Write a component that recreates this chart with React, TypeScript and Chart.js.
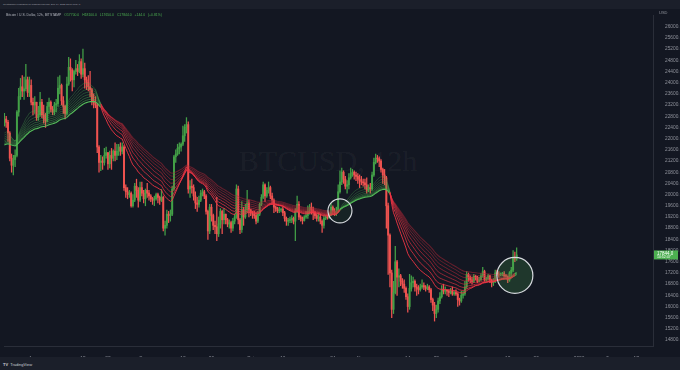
import React, { useEffect, useRef } from "react";
import { Chart, registerables } from "chart.js";

Chart.register(...registerables);

// ---------------- texts ----------------
const headerText = "Cryptosomer published on TradingView.com, Dec 14, 2022 13:07 UTC+1";
const symbolText = "Bitcoin / U.S. Dollar, 12h, BITSTAMP";
const ohlcText = "O17700.0 H18100.0 L17650.0 C17844.0 +144.0 (+0.81%)";
const watermarkText = "BTCUSD, 12h";
const currencyText = "USD";
const brandText = "TradingView";

// ---------------- time base ----------------
// day 0 = 1 Aug 2022; first 12h candle opens 24 Jul 2022
const firstDay = -8;
const barDays = 0.5;
const firstOpen = 22450;

// ---------------- 12h candles (Jul 24 .. Dec 14) ----------------
const closes = [
  // Jul 24-31
  22700, 22580, 22200, 21300, 21050, 21250, 21400, 22950, 23500, 23850, 23700, 23780, 24100, 23650, 23900, 23300,
  // Aug
  23200, 23300, 22750, 22850, 23300, 22850, 22700, 22620, 23150, 23300, 23050, 22950, 23200, 23250, 23800, 23900,
  23350, 23150, 22900, 23950, 24550, 24450, 24100, 24400, 24500, 24400, 24750, 24300, 24500, 24100, 24000, 23850,
  23750, 23350, 23300, 23200, 21700, 21150, 21200, 21150, 21400, 21500, 21100, 21400, 21300, 21550, 21400, 21550,
  21700, 21550, 21700, 20250, 20100, 20000, 20050, 19600, 19800, 20300, 20150, 19800, 20250, 20050,
  // Sep
  19850, 20150, 20050, 19950, 19850, 19800, 19850, 20000, 19900, 19800, 19900, 18800, 18900, 19300, 19250, 19300,
  20200, 21350, 21450, 21650, 21700, 21800, 22100, 22400, 22500, 20200, 20300, 20250, 19950, 19700, 19650, 19800,
  20050, 20100, 19950, 19400, 18700, 19550, 19250, 18900, 18850, 18600, 18950, 19400, 19100, 19300, 19100, 18950,
  19000, 18800, 19050, 19200, 20200, 19100, 18750, 19450, 19200, 19450, 19700, 19450,
  // Oct
  19350, 19300, 19250, 19050, 19300, 19650, 19900, 20350, 19950, 20150, 20250, 19950, 19800, 19550, 19500, 19420,
  19450, 19480, 19350, 19150, 19050, 19080, 19100, 19150, 19050, 19400, 19650, 19200, 19150, 19070, 19200, 19250,
  19400, 19550, 19450, 19350, 19250, 19150, 19200, 19050, 18900, 19150, 19200, 19170, 19300, 19550, 19400, 19350,
  19400, 20100, 20450, 20800, 20550, 20300, 20350, 20600, 20750, 20800, 20700, 20650, 20550, 20500,
  // Nov
  20450, 20420, 20350, 20150, 20250, 20200, 20700, 21150, 21300, 21280, 21200, 20900, 20700, 20600, 19600, 18550,
  17200, 15900, 16500, 17600, 17050, 17100, 16900, 16800, 16650, 16350, 16000, 16650, 16850, 16900, 16700, 16650,
  16600, 16700, 16750, 16700, 16650, 16700, 16600, 16250, 16050, 15750, 15900, 16200, 16350, 16600, 16550, 16580,
  16550, 16500, 16550, 16450, 16500, 16450, 16250, 16200, 16400, 16450, 16700, 17150,
  // Dec 1-14
  17050, 16950, 16900, 17080, 17050, 16900, 16950, 17100, 17250, 16950, 17000, 17100, 16950, 16850, 16900, 17200,
  17150, 17130, 17150, 17170, 17100, 17080, 16950, 17200, 17300, 17750, 17700, 17844,
];

const highs = [
  22900, 22800, 22650, 22250, 21450, 21400, 21600, 23000, 23800, 24150, 24250, 24200, 24650, 24200, 24200, 24100,
  23450, 23500, 23300, 23150, 23650, 23400, 23200, 22900, 23300, 23450, 23350, 23150, 23300, 23400, 24200, 24250,
  23950, 23500, 23200, 24200, 24900, 24850, 24500, 24450, 24800, 24650, 25000, 24850, 25200, 24700, 24200, 24250,
  24400, 23800, 23600, 23500, 23250, 21750, 21400, 21350, 21650, 21700, 21500, 21550, 21650, 21600, 21850, 21800,
  21800, 21850, 21850, 21750, 20350, 20250, 20150, 20100, 20000, 20400, 20550, 20250, 20450, 20450,
  20150, 20200, 20400, 20150, 20000, 19900, 19950, 20050, 20050, 19950, 20180, 19950, 19050, 19450, 19400, 19450,
  20300, 21400, 21600, 21800, 21850, 21850, 22450, 22500, 22750, 22600, 20500, 20550, 20350, 20100, 19900, 19950,
  20150, 20200, 20150, 20000, 19450, 19650, 19650, 19300, 19050, 19900, 19200, 19500, 19450, 19500, 19300, 19150,
  19100, 19050, 19150, 19300, 20350, 20300, 19150, 19750, 19550, 19650, 20150, 19800,
  19480, 19400, 19400, 19350, 19400, 19700, 20000, 20450, 20380, 20250, 20450, 20300, 20050, 19850, 19600, 19550,
  19550, 19520, 19550, 19400, 19200, 19150, 19200, 19250, 19200, 19500, 19950, 19750, 19250, 19200, 19250, 19400,
  19600, 19650, 19700, 19550, 19400, 19300, 19350, 19300, 19100, 19250, 19250, 19280, 19350, 19700, 19600, 19500,
  19550, 20350, 20850, 20950, 20850, 20650, 20500, 20750, 20950, 20900, 20850, 20800, 20750, 20700,
  20650, 20550, 20550, 20600, 20350, 20400, 20800, 21300, 21450, 21400, 21350, 21250, 20950, 20900, 20650, 19700,
  18600, 17300, 16900, 18150, 17650, 17350, 17150, 17000, 16950, 16700, 16450, 17150, 17100, 17050, 16950, 16800,
  16750, 16800, 16950, 16850, 16750, 16800, 16750, 16650, 16300, 16150, 16050, 16300, 16500, 16750, 16800, 16700,
  16600, 16600, 16650, 16700, 16550, 16600, 16500, 16300, 16550, 16550, 16900, 17250,
  17200, 17100, 17050, 17150, 17120, 17080, 17050, 17180, 17400, 17300, 17050, 17150, 17120, 16980, 17000, 17300,
  17300, 17250, 17200, 17220, 17250, 17150, 17100, 17250, 17400, 18000, 17950, 18100,
];

const lows = [
  22450, 22400, 21900, 21200, 20800, 20700, 21000, 21350, 22800, 23400, 23500, 23400, 23700, 23500, 23500, 23200,
  22850, 22900, 22650, 22650, 22800, 22750, 22550, 22400, 22600, 22900, 22950, 22850, 22850, 22950, 23150, 23600,
  23200, 22900, 22700, 22850, 23900, 24050, 23700, 23850, 24300, 24250, 24350, 24150, 24200, 23800, 23750, 23700,
  23500, 23200, 23100, 23100, 21500, 20800, 20850, 20900, 21050, 21300, 20900, 20950, 20900, 21200, 21200, 21250,
  21400, 21400, 21450, 20150, 19900, 19850, 19900, 19550, 19550, 19750, 19900, 19550, 19750, 19950,
  19700, 19600, 19900, 19800, 19750, 19650, 19600, 19800, 19700, 19650, 19750, 18700, 18550, 18800, 19000, 19050,
  19250, 20150, 21150, 21400, 21450, 21550, 21750, 21900, 22200, 20050, 19900, 20050, 19800, 19500, 19400, 19550,
  19750, 19950, 19850, 19300, 18400, 18600, 19050, 18750, 18600, 18350, 18500, 18800, 18600, 18950, 18950, 18850,
  18800, 18650, 18700, 18950, 19150, 18950, 18600, 18650, 18900, 19150, 19350, 19200,
  19250, 19150, 19150, 18950, 19000, 19250, 19600, 19850, 19750, 19900, 20050, 19850, 19700, 19350, 19400, 19350,
  19350, 19380, 19250, 19050, 18900, 18900, 19000, 19000, 18950, 18350, 19350, 19100, 19050, 18950, 19050, 19150,
  19150, 19300, 19300, 19100, 19150, 19050, 19050, 18950, 18650, 18800, 19100, 19120, 19150, 19250, 19300, 19250,
  19250, 19350, 20050, 20350, 20400, 20200, 20050, 20200, 20550, 20650, 20550, 20500, 20400, 20250,
  20350, 20300, 20200, 20050, 20100, 20050, 20150, 20650, 21100, 21150, 21000, 20800, 20400, 20350, 18800, 17150,
  16700, 15600, 15750, 16450, 16400, 16700, 16750, 16650, 16500, 16250, 15800, 15900, 16550, 16700, 16550, 16400,
  16450, 16550, 16650, 16600, 16550, 16600, 16500, 16150, 15850, 15480, 15600, 15800, 16100, 16300, 16450, 16450,
  16400, 16350, 16450, 16400, 16400, 16400, 16000, 16050, 16150, 16300, 16400, 16650,
  16900, 16850, 16800, 16850, 16950, 16850, 16880, 16930, 17050, 16900, 16900, 16950, 16850, 16700, 16750, 16850,
  17100, 17050, 17100, 17100, 17050, 17050, 16850, 16900, 17050, 17250, 17600, 17650,
];

// ---------------- EMA ribbon ----------------
const emaLengths = [20, 25, 30, 35, 40, 45, 50, 55];
const emaStart = [22150, 22080, 22010, 21950, 21890, 21840, 21790, 21740];

// ---------------- axes ----------------
const xMinDay = -8.12;
const xMaxDay = 173.7;
const tickDays = [0, 14, 21, 31, 42, 50, 61, 70, 84, 92, 105, 113, 122, 133, 141, 153, 161, 169];
const tickLabels = ["Aug", "15", "22", "Sep", "12", "20", "Oct", "10", "24", "Nov", "14", "22", "Dec", "12", "20", "2023", "9", "17"];
const yMin = 14590;
const yMax = 26385;
const priceTicks = [
  26000, 25600, 25200, 24800, 24400, 24000, 23600, 23200, 22800, 22400, 22000, 21600, 21200, 20800, 20400,
  20000, 19600, 19200, 18800, 18400, 18000, 17600, 17200, 16800, 16400, 16000, 15600, 15200, 14800,
];

// ---------------- drawn circles ----------------
const circleDays = [86, 135];
const circlePrices = [19420, 17110];

const UP = "#43a047";
const DOWN = "#ef5350";
// fast (EMA20) ... slow (EMA55)
const greenShades = [
  "rgba(76,175,80,0.35)", "rgba(76,175,80,0.35)", "rgba(76,175,80,0.38)", "rgba(76,175,80,0.4)",
  "rgba(76,175,80,0.45)", "rgba(76,175,80,0.5)", "rgba(76,175,80,0.6)", "rgba(86,190,90,1)",
];
const redShades = [
  "rgba(242,54,69,1)", "rgba(236,52,68,0.85)", "rgba(228,50,66,0.75)", "rgba(220,48,64,0.68)",
  "rgba(210,46,62,0.62)", "rgba(200,44,60,0.56)", "rgba(190,42,58,0.52)", "rgba(180,40,56,0.5)",
];

export default function App() {
  const canvasRef = useRef<HTMLCanvasElement>(null);

  useEffect(() => {
    const canvas = canvasRef.current;
    if (!canvas) return;

    const days = closes.map((_, i) => firstDay + i * barDays);
    const opens = closes.map((_, i) => (i === 0 ? firstOpen : closes[i - 1]));
    const colors = closes.map((c, i) => (c >= opens[i] ? UP : DOWN));

    const emas = emaLengths.map((n, k) => {
      const a = 2 / (n + 1);
      let e = emaStart[k];
      return closes.map((c) => (e = e + a * (c - e)));
    });
    const fast = emas[0];
    const slow = emas[emas.length - 1];
    const bull = fast.map((v, i) => v > slow[i]);

    const ribbonSets = emas.map((arr, k) => ({
      type: "line" as const,
      data: arr.map((y, i) => ({ x: days[i], y })),
      borderWidth: k === emas.length - 1 ? 1.1 : 0.9,
      pointRadius: 0,
      tension: 0,
      borderColor: greenShades[k],
      segment: {
        borderColor: (ctx: any) => (bull[ctx.p1DataIndex] ? greenShades[k] : redShades[k]),
      },
      order: 0,
    }));

    const bodies = {
      type: "bar" as const,
      data: closes.map((c, i) => ({ x: days[i], y: [opens[i], c] })),
      backgroundColor: colors,
      borderWidth: 0,
      barThickness: 1.3,
      minBarLength: 0.8,
      grouped: false,
      order: 1,
    };
    const wicks = {
      type: "bar" as const,
      data: closes.map((_, i) => ({ x: days[i], y: [lows[i], highs[i]] })),
      backgroundColor: colors,
      borderWidth: 0,
      barThickness: 0.6,
      grouped: false,
      order: 2,
    };

    const overlay = {
      id: "overlay",
      afterDatasetsDraw(chart: any) {
        const { ctx, scales } = chart;
        const xs = scales.x;
        const ys = scales.y;
        ctx.save();
        circleDays.forEach((d, i) => {
          const cx = xs.getPixelForValue(d);
          const cy = ys.getPixelForValue(circlePrices[i]);
          const r = i === 0 ? 12 : 18;
          ctx.beginPath();
          ctx.arc(cx, cy, r, 0, Math.PI * 2);
          ctx.fillStyle = i === 0 ? "rgba(76,175,80,0.08)" : "rgba(76,175,80,0.22)";
          ctx.fill();
          ctx.lineWidth = 1.2;
          ctx.strokeStyle = "#d6d9de";
          ctx.stroke();
        });
        ctx.restore();
      },
      afterDraw(chart: any) {
        const { ctx, scales, chartArea } = chart;
        const last = closes[closes.length - 1];
        const py = scales.y.getPixelForValue(last);
        ctx.save();
        ctx.fillStyle = "#4caf50";
        ctx.fillRect(chartArea.right + 1, py - 4.5, 24, 9);
        ctx.fillStyle = "#ffffff";
        ctx.font = "4.5px 'Liberation Sans', Arial, sans-serif";
        ctx.textBaseline = "middle";
        ctx.textAlign = "left";
        ctx.fillText(last.toFixed(1), chartArea.right + 4, py - 1.6);
        ctx.font = "3.5px 'Liberation Sans', Arial, sans-serif";
        ctx.fillText("10:52:47", chartArea.right + 4, py + 2.4);
        ctx.restore();
      },
    };

    const tickFont = { family: "'Liberation Sans', Arial, sans-serif", size: 4.8 };

    const chart = new Chart(canvas, {
      type: "bar",
      data: { datasets: [...ribbonSets, bodies, wicks] as any },
      options: {
        animation: false,
        responsive: false,
        devicePixelRatio: 1,
        events: [],
        layout: { padding: { left: 4, right: 0, top: 0, bottom: 0 } },
        plugins: { legend: { display: false }, tooltip: { enabled: false }, title: { display: false } },
        scales: {
          x: {
            type: "linear",
            min: xMinDay,
            max: xMaxDay,
            offset: false,
            grid: { display: false },
            border: { display: true, color: "#2a2e39", width: 1 },
            afterBuildTicks: (scale: any) => {
              scale.ticks = tickDays.map((v) => ({ value: v }));
            },
            afterFit: (scale: any) => {
              scale.height = 11;
            },
            ticks: {
              autoSkip: false,
              maxRotation: 0,
              padding: 2,
              color: "#8f929b",
              font: tickFont,
              callback: (v: any) => {
                const i = tickDays.indexOf(Number(v));
                return i >= 0 ? tickLabels[i] : "";
              },
            },
          },
          y: {
            type: "linear",
            position: "right",
            min: yMin,
            max: yMax,
            grid: { display: false },
            border: { display: true, color: "#2a2e39", width: 1 },
            afterBuildTicks: (scale: any) => {
              scale.ticks = priceTicks.map((v) => ({ value: v }));
            },
            afterFit: (scale: any) => {
              scale.width = 27;
            },
            ticks: {
              autoSkip: false,
              padding: 4,
              color: "#8f929b",
              font: tickFont,
              callback: (v: any) => Number(v).toFixed(1),
            },
          },
        },
      } as any,
      plugins: [overlay],
    });

    return () => chart.destroy();
  }, []);

  const sans = "'Liberation Sans', Arial, sans-serif";

  return (
    <div
      style={{
        position: "fixed",
        left: 0,
        top: 0,
        width: 680,
        height: 370,
        background: "#131722",
        overflow: "hidden",
        fontFamily: sans,
      }}
    >
      <div style={{ position: "absolute", left: 0, top: 0, width: 680, height: 9, background: "#1b1f2a" }}>
        <span style={{ position: "absolute", left: 3, top: 2.5, fontSize: 2.4, lineHeight: "3px", color: "#a3a6af", whiteSpace: "nowrap" }}>
          {headerText}
        </span>
      </div>
      <div
        style={{
          position: "absolute",
          left: 0,
          width: 656,
          top: 145,
          textAlign: "center",
          fontFamily: "'Liberation Serif', serif",
          fontSize: 30,
          lineHeight: "32px",
          color: "rgba(255,255,255,0.05)",
          whiteSpace: "nowrap",
        }}
      >
        {watermarkText}
      </div>
      <canvas
        ref={canvasRef}
        width={680}
        height={348}
        style={{ position: "absolute", left: 0, top: 9, width: 680, height: 348 }}
      />
      <div style={{ position: "absolute", left: 6, top: 12.5, fontSize: 3.4, lineHeight: "4px", whiteSpace: "nowrap", color: "#b2b5be" }}>
        {symbolText}
        <span style={{ color: "#4caf50", marginLeft: 3, wordSpacing: 2 }}>{ohlcText}</span>
      </div>
      <div style={{ position: "absolute", left: 659, top: 11, fontSize: 4, lineHeight: "4px", color: "#8f929b" }}>{currencyText}</div>
      <div style={{ position: "absolute", left: 0, top: 357, width: 680, height: 13, background: "#1b1f2a" }}>
        <span style={{ position: "absolute", left: 3, top: 5, fontSize: 4, lineHeight: "5px", color: "#c8cbd2", whiteSpace: "nowrap" }}>
          <b style={{ marginRight: 2 }}>TV</b>
          {brandText}
        </span>
      </div>
    </div>
  );
}
